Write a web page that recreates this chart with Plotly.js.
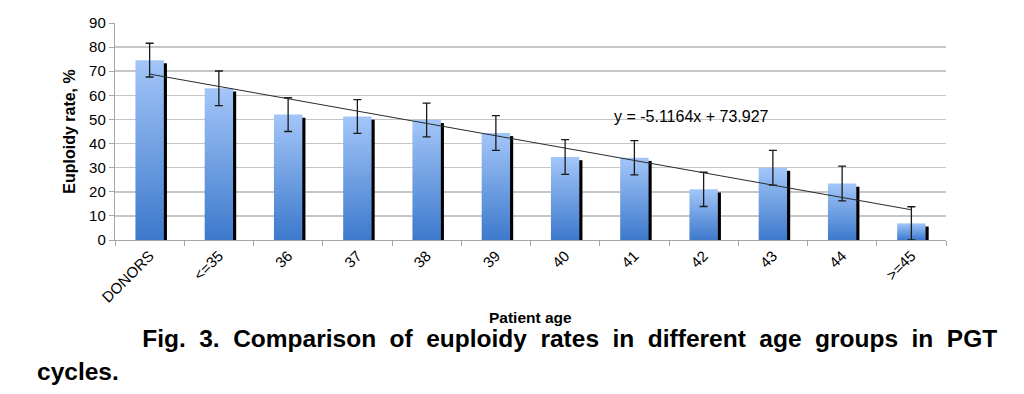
<!DOCTYPE html>
<html>
<head>
<meta charset="utf-8">
<script src="https://cdn.plot.ly/plotly-3.0.1.min.js"></script>
<style>
html,body{margin:0;padding:0;background:#fff;}
#chart{width:1024px;height:394px;}
</style>
</head>
<body>
<div id="chart"></div>
<script>
// ---- data ----
const categories = ["DONORS", "<=35", "36", "37", "38", "39", "40", "41", "42", "43", "44", ">=45"];
const euploidyRate = [74.6, 62.9, 52.0, 51.2, 49.8, 44.4, 34.4, 34.1, 21.0, 30.0, 23.4, 6.9];
const errorValues = [7.0, 7.2, 7.0, 7.0, 7.0, 7.2, 7.2, 7.1, 7.1, 7.2, 7.2, 6.9];
const trendSlope = -5.1164;
const trendIntercept = 73.927;
const trendLabel = "y = -5.1164x + 73.927";
const yAxisTitle = "Euploidy rate, %";
const xAxisTitle = "Patient age";
const captionLine1 = "Fig. 3. Comparison of euploidy rates in different age groups in PGT";
const captionLine2 = "cycles.";

// shadow strip (Excel-style 3D edge) derived from the same values
const shadowDrop = 1.3;
const shadowValues = euploidyRate.map(v => Math.max(v - shadowDrop, 0));
const trendValues = categories.map((c, i) => trendSlope * (i + 1) + trendIntercept);

const FONT = "Liberation Sans, Arial, Helvetica, sans-serif";

const traces = [
  {
    type: "bar", x: categories, y: shadowValues,
    offset: 0.195, width: 0.055,
    marker: {color: "#000000", line: {width: 0}},
    hoverinfo: "skip", showlegend: false
  },
  {
    type: "bar", x: categories, y: euploidyRate,
    offset: -0.205, width: 0.41,
    marker: {color: "#6fa2e6", line: {width: 0}},
    error_y: {type: "data", array: errorValues, visible: true, color: "#1a1a1a", thickness: 1.3, width: 4},
    showlegend: false
  },
  {
    type: "scatter", mode: "lines", x: categories, y: trendValues,
    line: {color: "#2a2a2a", width: 1},
    hoverinfo: "skip", showlegend: false
  }
];

const layout = {
  width: 1024, height: 394,
  margin: {l: 115, r: 78, t: 23, b: 154},
  paper_bgcolor: "#ffffff", plot_bgcolor: "#ffffff",
  barmode: "overlay",
  font: {family: FONT, color: "#000000"},
  xaxis: {
    type: "category", range: [-0.5, 11.5],
    showline: true, linecolor: "#a6a6a6", linewidth: 1.2,
    ticks: "outside", tickson: "boundaries", ticklen: 5, tickcolor: "#a6a6a6",
    tickangle: -45, tickfont: {size: 15, family: FONT, color: "#000"},
    showgrid: false, zeroline: false, fixedrange: true
  },
  yaxis: {
    range: [0, 90], dtick: 10, tick0: 0,
    showline: true, linecolor: "#a6a6a6", linewidth: 1.2,
    ticks: "outside", ticklen: 5, tickcolor: "#a6a6a6",
    tickfont: {size: 15, family: FONT, color: "#000"},
    showgrid: true, gridcolor: "#c6c6c6", gridwidth: 1.5,
    zeroline: false,
    title: {text: "<b>" + yAxisTitle + "</b>", font: {size: 16, family: FONT, color: "#000"}, standoff: 9}
  },
  annotations: [
    {text: trendLabel, xref: "paper", yref: "y", x: 0.6937, y: 51.2,
     xanchor: "center", yanchor: "middle", showarrow: false,
     font: {size: 16, family: FONT, color: "#000"}},
    {text: "<b>" + xAxisTitle + "</b>", xref: "paper", yref: "paper", x: 0.5, y: -0.359,
     xanchor: "center", yanchor: "middle", showarrow: false,
     font: {size: 15.5, family: FONT, color: "#000"}},
    {text: "<b>" + captionLine1 + "</b>", xref: "paper", yref: "paper", x: 0.5466, y: -0.4525,
     xanchor: "center", yanchor: "middle", showarrow: false,
     font: {size: 24.5, family: FONT, color: "#000"}},
    {text: "<b>" + captionLine2 + "</b>", xref: "paper", yref: "paper", x: -0.0963, y: -0.6065,
     xanchor: "left", yanchor: "middle", showarrow: false,
     font: {size: 24.5, family: FONT, color: "#000"}}
  ]
};

Plotly.newPlot("chart", traces, layout, {displayModeBar: false, staticPlot: true}).then(function (gd) {
  // vertical gradient fill for the blue bars
  const svg = gd.querySelector("svg.main-svg");
  const ns = "http://www.w3.org/2000/svg";
  let defs = svg.querySelector("defs");
  if (!defs) { defs = document.createElementNS(ns, "defs"); svg.insertBefore(defs, svg.firstChild); }
  const grad = document.createElementNS(ns, "linearGradient");
  grad.setAttribute("id", "barGrad");
  grad.setAttribute("x1", "0"); grad.setAttribute("y1", "0");
  grad.setAttribute("x2", "0"); grad.setAttribute("y2", "1");
  [["0", "#a3c6f8"], ["1", "#3d79cc"]].forEach(function (s) {
    const st = document.createElementNS(ns, "stop");
    st.setAttribute("offset", s[0]); st.setAttribute("stop-color", s[1]);
    grad.appendChild(st);
  });
  defs.appendChild(grad);
  const barTraces = gd.querySelectorAll(".barlayer .trace");
  if (barTraces[1]) {
    barTraces[1].querySelectorAll("path").forEach(function (p) { p.style.fill = "url(#barGrad)"; });
  }
  // justify the first caption line to the reference width
  gd.querySelectorAll(".annotation-text").forEach(function (t) {
    if (t.textContent.indexOf("Fig. 3.") === 0) {
      const w = t.getBBox().width;
      const target = 855;
      const gaps = (t.textContent.match(/ /g) || []).length;
      if (gaps > 0 && w < target) t.style.wordSpacing = ((target - w) / gaps) + "px";
    }
  });
});
</script>
</body>
</html>
